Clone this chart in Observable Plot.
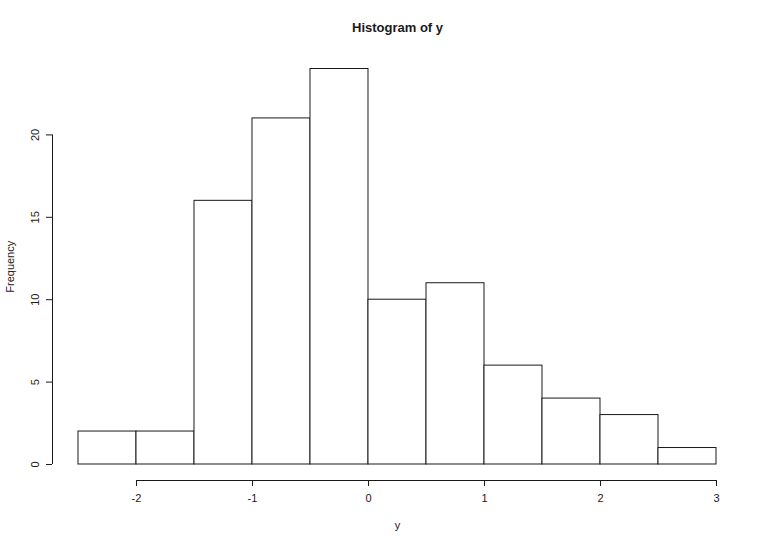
<!DOCTYPE html>
<html>
<head>
<meta charset="utf-8">
<script src="https://cdn.jsdelivr.net/npm/d3@7"></script>
<script src="https://cdn.jsdelivr.net/npm/@observablehq/plot@0.6"></script>
<style>
  html, body { margin: 0; padding: 0; background: #fff; }
  #chart svg { display: block; }
</style>
</head>
<body>
<div id="chart"></div>
<script>
const binStart = [-2.5, -2, -1.5, -1, -0.5, 0, 0.5, 1, 1.5, 2, 2.5];
const binEnd   = [-2, -1.5, -1, -0.5, 0, 0.5, 1, 1.5, 2, 2.5, 3];
const counts   = [2, 2, 16, 21, 24, 10, 11, 6, 4, 3, 1];
const xTicks = [-2, -1, 0, 1, 2, 3];
const yTicks = [0, 5, 10, 15, 20];
const titleText = "Histogram of y";
const xLabel = "y";
const yLabel = "Frequency";

const bins = counts.map((c, i) => ({x1: binStart[i], x2: binEnd[i], count: c}));

const xMin = -2.724, xMax = 3;
const yMin = -0.971, yMax = 24;

const ink = "#1a1a1a";
const fmt = d => String(d);

const chart = Plot.plot({
  width: 768,
  height: 545,
  marginLeft: 52,
  marginRight: 52,
  marginTop: 68.5,
  marginBottom: 65,
  style: {fontFamily: "'Liberation Sans', Arial, Helvetica, sans-serif", fontSize: "11px", color: ink, background: "#fff"},
  x: {domain: [xMin, xMax]},
  y: {domain: [yMin, yMax]},
  marks: [
    Plot.rectY(bins, {x1: "x1", x2: "x2", y1: 0, y2: "count", fill: "white", stroke: ink, strokeWidth: 1}),
    Plot.ruleY([yMin], {x1: xTicks[0], x2: xTicks[xTicks.length - 1], stroke: ink}),
    Plot.ruleX([xMin], {y1: yTicks[0], y2: yTicks[yTicks.length - 1], stroke: ink}),
    Plot.axisX(xTicks, {tickSize: 6, tickPadding: 8, tickFormat: fmt, label: null, fontSize: 11, stroke: ink, fill: ink}),
    Plot.axisY(yTicks, {tickSize: 6, tickPadding: 8, tickRotate: -90, tickFormat: fmt, label: null, fontSize: 11, stroke: ink, fill: ink}),
    Plot.text([titleText], {frameAnchor: "top", x: (binStart[0] + binEnd[binEnd.length - 1]) / 2, dy: -41.5, fontWeight: "bold", fontSize: 13, fill: ink, lineAnchor: "middle"}),
    Plot.text([xLabel], {frameAnchor: "bottom", x: (binStart[0] + binEnd[binEnd.length - 1]) / 2, dy: 45, fontSize: 11, fill: ink, lineAnchor: "middle"}),
    Plot.text([yLabel], {frameAnchor: "left", y: yMax / 2, dx: -42, rotate: -90, fontSize: 11, fill: ink, textAnchor: "middle", lineAnchor: "middle"})
  ]
});
document.getElementById("chart").appendChild(chart);
</script>
</body>
</html>
